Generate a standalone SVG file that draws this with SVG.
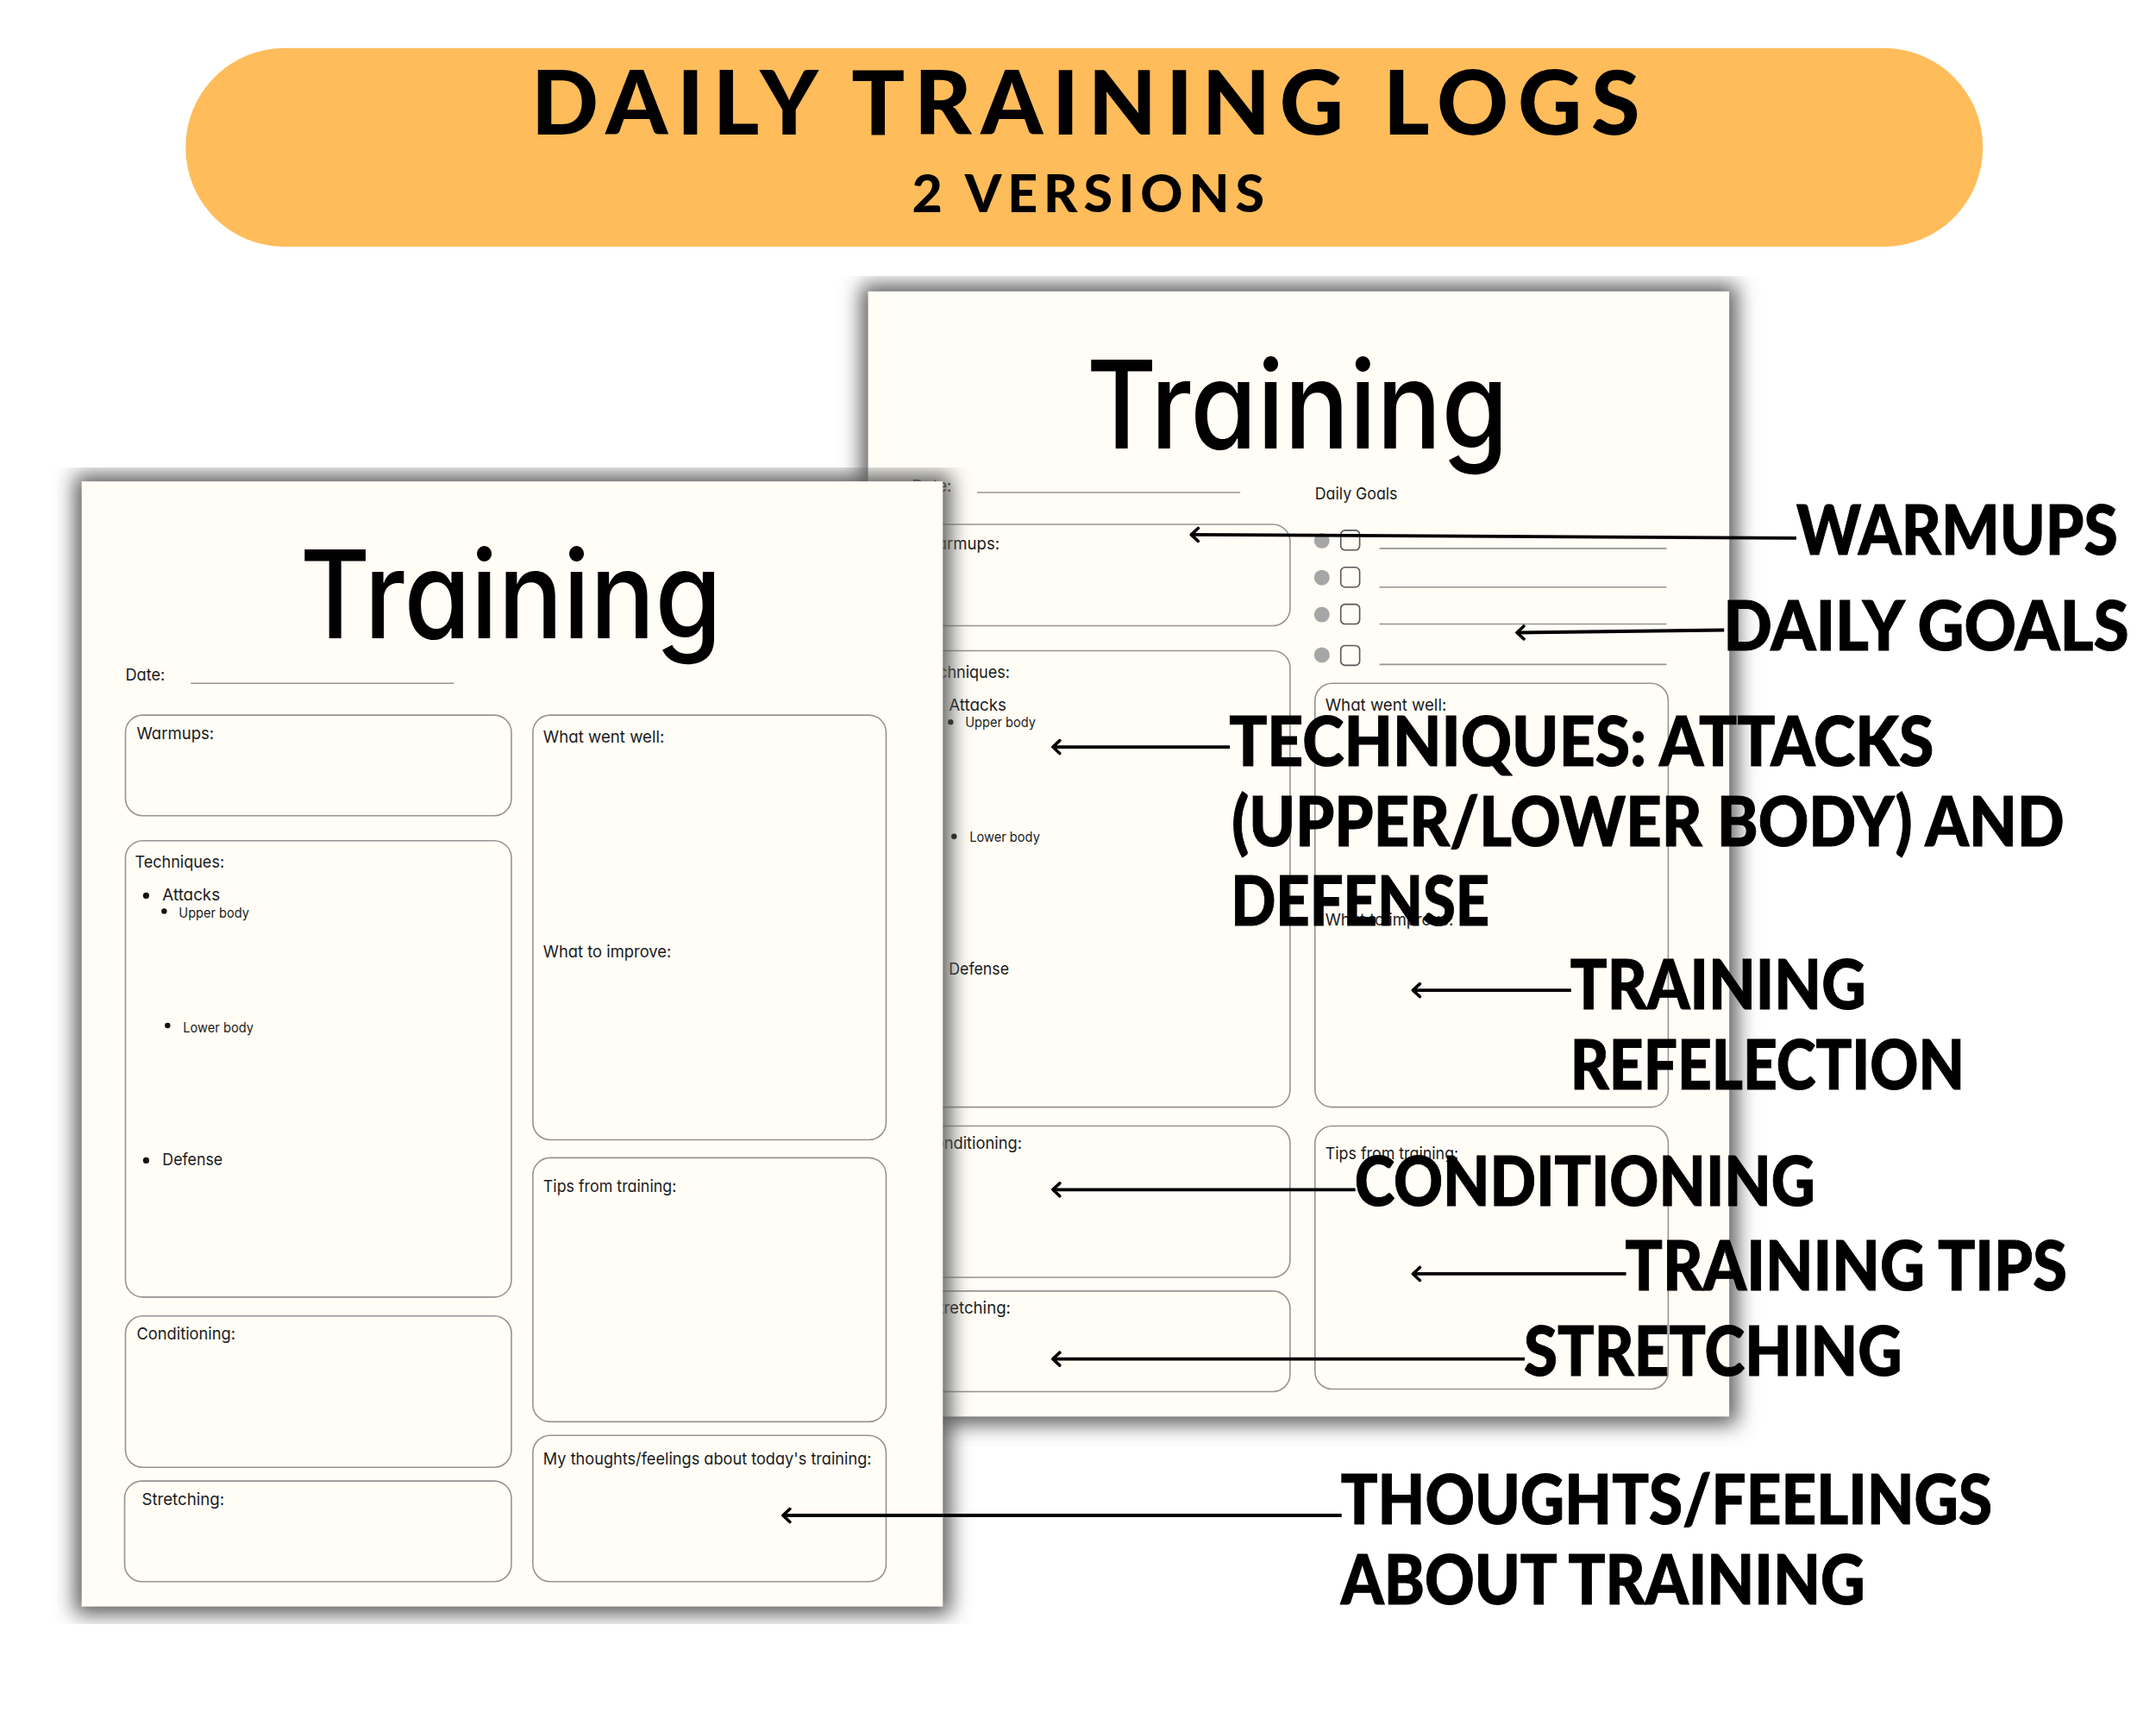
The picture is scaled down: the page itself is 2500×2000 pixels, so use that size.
<svg xmlns="http://www.w3.org/2000/svg" width="2500" height="2000" viewBox="0 0 2500 2000">
<style>
.pg{fill:#fffdf6}
.bx{fill:none;stroke:#949494;stroke-width:1.6}
.cb{fill:none;stroke:#555;stroke-width:1.6}
.ln{stroke:#949494;stroke-width:1.6;fill:none}
.t{font-family:"Inter","Liberation Sans",sans-serif;font-size:19px;fill:#1c1c1c;font-feature-settings:"cv11"}
.s{font-size:16px}
.h{font-family:"Inter","Liberation Sans",sans-serif;font-size:142px;font-weight:500;fill:#000;font-feature-settings:"cv11"}
.l{font-family:"Lato","Open Sans",sans-serif;font-weight:900;font-size:81px;fill:#000;stroke:#000;stroke-width:1}
.ttl{font-family:"Lato","Open Sans",sans-serif;font-weight:900;fill:#000}
.cn{stroke:#000;stroke-width:3.8;fill:none;marker-end:url(#arr)}
.dot{fill:#a6a6a6}
.bl{fill:#111}
.sd{fill:#5c5c5c}
</style>
<defs>
<marker id="arr" viewBox="0 0 14 20" refX="11" refY="10" markerWidth="14" markerHeight="20" markerUnits="userSpaceOnUse" orient="auto">
<path d="M3 2.5 L11 10 L3 17.5" fill="none" stroke="#000" stroke-width="3.6" stroke-linecap="round" stroke-linejoin="round"/>
</marker>
<filter id="sh2" filterUnits="userSpaceOnUse" x="975" y="322" width="1075" height="1360"><feGaussianBlur stdDeviation="12"/></filter>
<filter id="sh1" filterUnits="userSpaceOnUse" x="60" y="544" width="1075" height="1345"><feGaussianBlur stdDeviation="12"/></filter>
</defs>
<rect width="2500" height="2000" fill="#fff"/>
<g id="artwork" transform="scale(0.9966)">
<g id="banner">
<rect x="216" y="56" width="2091" height="231" rx="115" fill="#ffbc5a"/>
<text class="ttl" x="618" y="157" font-size="103" textLength="1290" lengthAdjust="spacing">DAILY TRAINING LOGS</text>
<text class="ttl" x="1061" y="247" font-size="61" textLength="410" lengthAdjust="spacing">2 VERSIONS</text>
</g>

<g id="page-back">
<rect class="sd" x="1002" y="331" width="1019" height="1326" filter="url(#sh2)"/>
<rect class="pg" x="1010" y="339" width="1002" height="1309"/>
<text class="h" x="1264" y="522" textLength="491" lengthAdjust="spacingAndGlyphs">Training</text>
<text class="t" x="1061" y="572" textLength="46" lengthAdjust="spacingAndGlyphs">Date:</text>
<line class="ln" x1="1137" y1="573" x2="1443" y2="573"/>
<text class="t" x="1530" y="581" textLength="96" lengthAdjust="spacingAndGlyphs">Daily Goals</text>
<g id="goals">
<circle class="dot" cx="1538" cy="629" r="9"/><rect class="cb" x="1560" y="617" width="22" height="23" rx="5"/><line class="ln" x1="1605" y1="638" x2="1939" y2="638"/>
<circle class="dot" cx="1538" cy="672" r="9"/><rect class="cb" x="1560" y="660" width="22" height="23" rx="5"/><line class="ln" x1="1605" y1="683" x2="1939" y2="683"/>
<circle class="dot" cx="1538" cy="715" r="9"/><rect class="cb" x="1560" y="703" width="22" height="23" rx="5"/><line class="ln" x1="1605" y1="726" x2="1939" y2="726"/>
<circle class="dot" cx="1538" cy="762" r="9"/><rect class="cb" x="1560" y="751" width="22" height="23" rx="5"/><line class="ln" x1="1605" y1="773" x2="1939" y2="773"/>
</g>
<g id="back-warmups"><rect class="bx" x="1061" y="610" width="440" height="118" rx="20"/><text class="t" x="1073" y="639" textLength="90" lengthAdjust="spacingAndGlyphs">Warmups:</text></g>
<g id="back-techniques"><rect class="bx" x="1061" y="757" width="440" height="531" rx="20"/>
<text class="t" x="1071" y="789" textLength="104" lengthAdjust="spacingAndGlyphs">Techniques:</text>
<text class="t" x="1104" y="827" textLength="67" lengthAdjust="spacingAndGlyphs">Attacks</text>
<circle class="bl" cx="1106" cy="840" r="3.2"/><text class="t s" x="1123" y="846" textLength="82" lengthAdjust="spacingAndGlyphs">Upper body</text>
<circle class="bl" cx="1110" cy="973" r="3.2"/><text class="t s" x="1128" y="979" textLength="82" lengthAdjust="spacingAndGlyphs">Lower body</text>
<text class="t" x="1104" y="1134" textLength="70" lengthAdjust="spacingAndGlyphs">Defense</text></g>
<g id="back-conditioning"><rect class="bx" x="1061" y="1310" width="440" height="176" rx="20"/><text class="t" x="1074" y="1337" textLength="115" lengthAdjust="spacingAndGlyphs">Conditioning:</text></g>
<g id="back-stretching"><rect class="bx" x="1061" y="1502" width="440" height="117" rx="20"/><text class="t" x="1080" y="1528" textLength="96" lengthAdjust="spacingAndGlyphs">Stretching:</text></g>
<g id="back-reflection"><rect class="bx" x="1530" y="795" width="411" height="493" rx="20"/>
<text class="t" x="1542" y="827" textLength="141" lengthAdjust="spacingAndGlyphs">What went well:</text>
<text class="t" x="1542" y="1077" textLength="149" lengthAdjust="spacingAndGlyphs">What to improve:</text></g>
<g id="back-tips"><rect class="bx" x="1530" y="1310" width="411" height="306" rx="20"/><text class="t" x="1542" y="1349" textLength="155" lengthAdjust="spacingAndGlyphs">Tips from training:</text></g>
</g>

<g id="page-front">
<rect class="sd" x="87" y="552" width="1019" height="1326" filter="url(#sh1)"/>
<rect class="pg" x="95" y="560" width="1002" height="1309"/>
<text class="h" x="349" y="743" textLength="491" lengthAdjust="spacingAndGlyphs">Training</text>
<text class="t" x="146" y="792" textLength="46" lengthAdjust="spacingAndGlyphs">Date:</text>
<line class="ln" x1="222" y1="795" x2="528" y2="795"/>
<g id="warmups"><rect class="bx" x="146" y="832" width="449" height="117" rx="20"/><text class="t" x="159" y="860" textLength="90" lengthAdjust="spacingAndGlyphs">Warmups:</text></g>
<g id="techniques"><rect class="bx" x="146" y="978" width="449" height="531" rx="20"/>
<text class="t" x="157" y="1009" textLength="104" lengthAdjust="spacingAndGlyphs">Techniques:</text>
<circle class="bl" cx="170" cy="1042" r="3.6"/><text class="t" x="189" y="1048" textLength="67" lengthAdjust="spacingAndGlyphs">Attacks</text>
<circle class="bl" cx="191" cy="1060" r="3.2"/><text class="t s" x="208" y="1068" textLength="82" lengthAdjust="spacingAndGlyphs">Upper body</text>
<circle class="bl" cx="195" cy="1193" r="3.2"/><text class="t s" x="213" y="1201" textLength="82" lengthAdjust="spacingAndGlyphs">Lower body</text>
<circle class="bl" cx="170" cy="1350" r="3.6"/><text class="t" x="189" y="1356" textLength="70" lengthAdjust="spacingAndGlyphs">Defense</text></g>
<g id="conditioning"><rect class="bx" x="146" y="1531" width="449" height="176" rx="20"/><text class="t" x="159" y="1558" textLength="115" lengthAdjust="spacingAndGlyphs">Conditioning:</text></g>
<g id="stretching"><rect class="bx" x="145" y="1723" width="450" height="117" rx="20"/><text class="t" x="165" y="1751" textLength="96" lengthAdjust="spacingAndGlyphs">Stretching:</text></g>
<g id="reflection"><rect class="bx" x="620" y="832" width="411" height="494" rx="20"/>
<text class="t" x="632" y="864" textLength="141" lengthAdjust="spacingAndGlyphs">What went well:</text>
<text class="t" x="632" y="1114" textLength="149" lengthAdjust="spacingAndGlyphs">What to improve:</text></g>
<g id="tips"><rect class="bx" x="620" y="1347" width="411" height="307" rx="20"/><text class="t" x="632" y="1387" textLength="155" lengthAdjust="spacingAndGlyphs">Tips from training:</text></g>
<g id="thoughts"><rect class="bx" x="620" y="1670" width="411" height="170" rx="20"/><text class="t" x="632" y="1704" textLength="382" lengthAdjust="spacingAndGlyphs">My thoughts/feelings about today's training:</text></g>
</g>

<g id="connectors">
<path class="cn" d="M2090 626 L1386 622"/>
<path class="cn" d="M2006 733 L1765 736"/>
<path class="cn" d="M1431 869 L1225 869"/>
<path class="cn" d="M1828 1152 L1644 1152"/>
<path class="cn" d="M1577 1384 L1225 1384"/>
<path class="cn" d="M1892 1482 L1644 1482"/>
<path class="cn" d="M1774 1581 L1225 1581"/>
<path class="cn" d="M1561 1763 L911 1763"/>
</g>

<g id="labels">
<text class="l" x="2090" y="645" textLength="374" lengthAdjust="spacingAndGlyphs">WARMUPS</text>
<text class="l" x="2005" y="757" textLength="472" lengthAdjust="spacingAndGlyphs">DAILY GOALS</text>
<text class="l" x="1430" y="891" textLength="820" lengthAdjust="spacingAndGlyphs">TECHNIQUES: ATTACKS</text>
<text class="l" x="1433" y="984" textLength="969" lengthAdjust="spacingAndGlyphs">(UPPER/LOWER BODY) AND</text>
<text class="l" x="1432" y="1077" textLength="301" lengthAdjust="spacingAndGlyphs">DEFENSE</text>
<text class="l" x="1827" y="1174" textLength="344" lengthAdjust="spacingAndGlyphs">TRAINING</text>
<text class="l" x="1827" y="1267" textLength="459" lengthAdjust="spacingAndGlyphs">REFELECTION</text>
<text class="l" x="1576" y="1403" textLength="536" lengthAdjust="spacingAndGlyphs">CONDITIONING</text>
<text class="l" x="1891" y="1501" textLength="514" lengthAdjust="spacingAndGlyphs">TRAINING TIPS</text>
<text class="l" x="1773" y="1600" textLength="440" lengthAdjust="spacingAndGlyphs">STRETCHING</text>
<text class="l" x="1560" y="1773" textLength="758" lengthAdjust="spacingAndGlyphs">THOUGHTS/FEELINGS</text>
<text class="l" x="1560" y="1866" textLength="610" lengthAdjust="spacingAndGlyphs">ABOUT TRAINING</text>
</g>
</g>
</svg>
